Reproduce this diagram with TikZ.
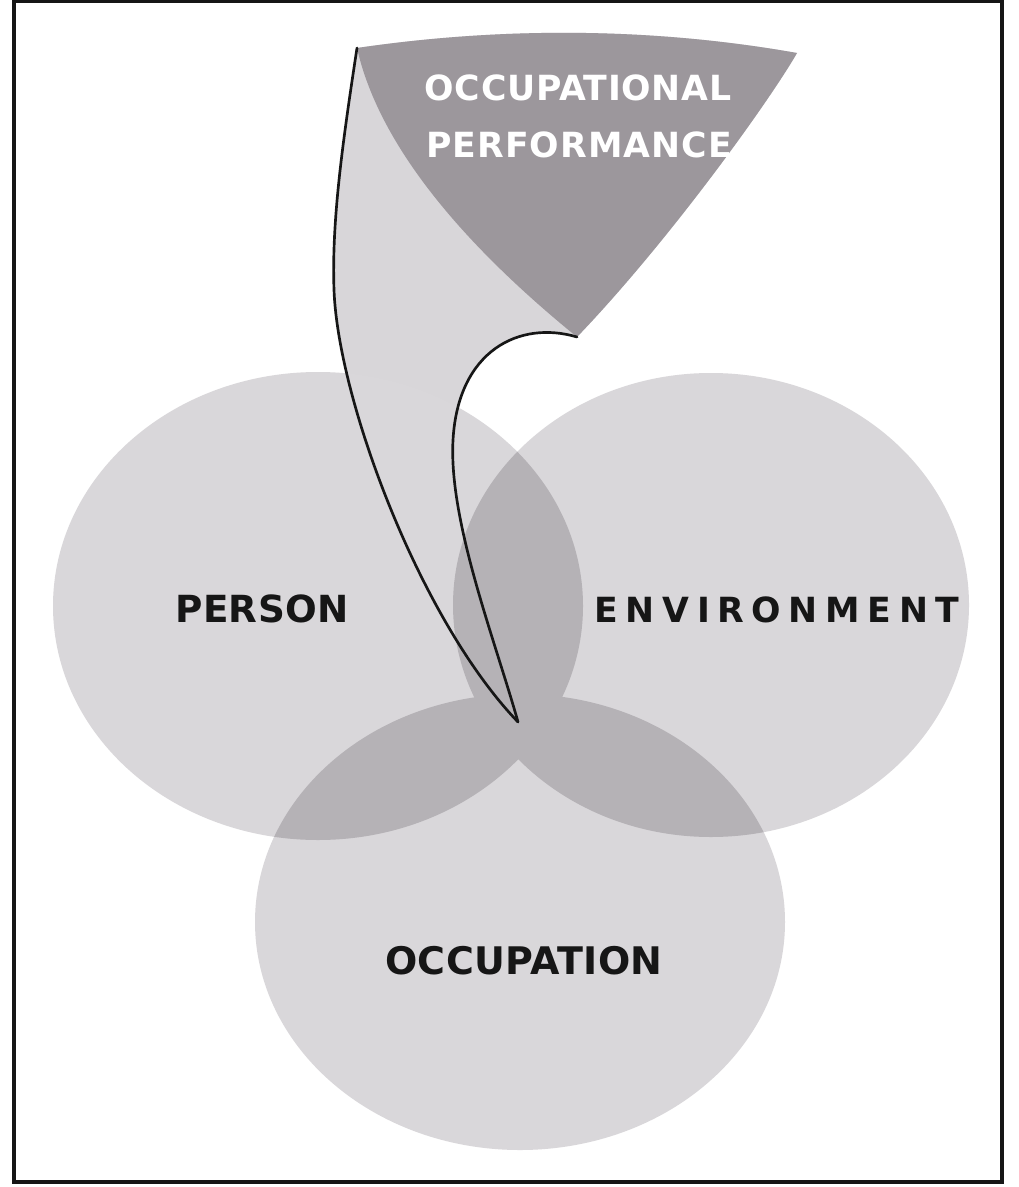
\documentclass[tikz,border=0pt]{standalone}
\usepackage{fontspec}
\setmainfont{DejaVu Sans}
\definecolor{circgrey}{HTML}{D9D7DA}
\definecolor{lensgrey}{HTML}{B5B2B6}
\definecolor{darkgrey}{HTML}{9C979C}
\definecolor{funnelgrey}{HTML}{D8D6D9}
\definecolor{inkblack}{HTML}{161616}
\begin{document}
\begin{tikzpicture}[x=0.75pt,y=-0.75pt,
  circ/.style={fill=circgrey},
  lens/.style={fill=lensgrey},
  curve/.style={draw=inkblack,line width=2pt,line cap=round},
  lbl/.style={inner sep=0pt,text=inkblack,font=\bfseries},
  wlbl/.style={inner sep=0pt,text=white,font=\bfseries}]
\useasboundingbox (0,0) rectangle (1019,1187);
\fill[white] (0,0) rectangle (1019,1187);
\coordinate (tip) at (518,722);
\coordinate (topleft) at (357,48);
\coordinate (topright) at (797,53);
\coordinate (rstart) at (577,337);
\coordinate (lmid) at (334,290);
\coordinate (rmid) at (453,440);
% funnel (light part)
\fill[funnelgrey] (tip) .. controls (420,620) and (338,400) .. (lmid)
  .. controls (331.5,220) and (343,140) .. (topleft)
  .. controls (500,27) and (650,27) .. (topright)
  .. controls (770,100) and (670,240) .. (rstart)
  .. controls (520,320) and (458,350) .. (rmid)
  .. controls (448.5,521) and (495,640) .. (tip) -- cycle;
% dark top part
\fill[darkgrey] (topleft) .. controls (500,27) and (650,27) .. (topright)
  .. controls (770,100) and (670,240) .. (rstart)
  .. controls (470,250) and (380,150) .. (topleft) -- cycle;
% circles
\fill[circ] (318,606) ellipse [x radius=265, y radius=234];
\fill[circ] (711,605) ellipse [x radius=258, y radius=232];
\fill[circ] (520,922) ellipse [x radius=265, y radius=228];
% overlaps
\begin{scope}
  \clip (318,606) ellipse [x radius=265, y radius=234];
  \fill[lens] (711,605) ellipse [x radius=258, y radius=232];
  \fill[lens] (520,922) ellipse [x radius=265, y radius=228];
\end{scope}
\begin{scope}
  \clip (711,605) ellipse [x radius=258, y radius=232];
  \fill[lens] (520,922) ellipse [x radius=265, y radius=228];
\end{scope}
% funnel outline curves
\draw[curve] (tip) .. controls (420,620) and (338,400) .. (lmid)
  .. controls (331.5,220) and (343,140) .. (topleft);
\draw[curve] (rstart) .. controls (520,320) and (458,350) .. (rmid)
  .. controls (448.5,521) and (495,640) .. (tip);
% labels
\node[lbl] (person) at (262,609) {\fontsize{28}{34}\selectfont\addfontfeatures{LetterSpace=1}PERSON};
\node[lbl] (environment) at (777,610) {\fontsize{26}{32}\selectfont\addfontfeatures{LetterSpace=22}ENVIRONMENT};
\node[lbl] (occupation) at (524,961) {\fontsize{28.5}{34}\selectfont\addfontfeatures{LetterSpace=1}OCCUPATION};
\node[wlbl] (occ1) at (578,88) {\fontsize{26}{32}\selectfont\addfontfeatures{LetterSpace=2}OCCUPATIONAL};
\node[wlbl] (occ2) at (579,145) {\fontsize{26}{32}\selectfont\addfontfeatures{LetterSpace=3}PERFORMANCE};
% frame
\draw[inkblack,line width=2.3pt] (14,1.5) rectangle (1002,1182);
\end{tikzpicture}
\end{document}
